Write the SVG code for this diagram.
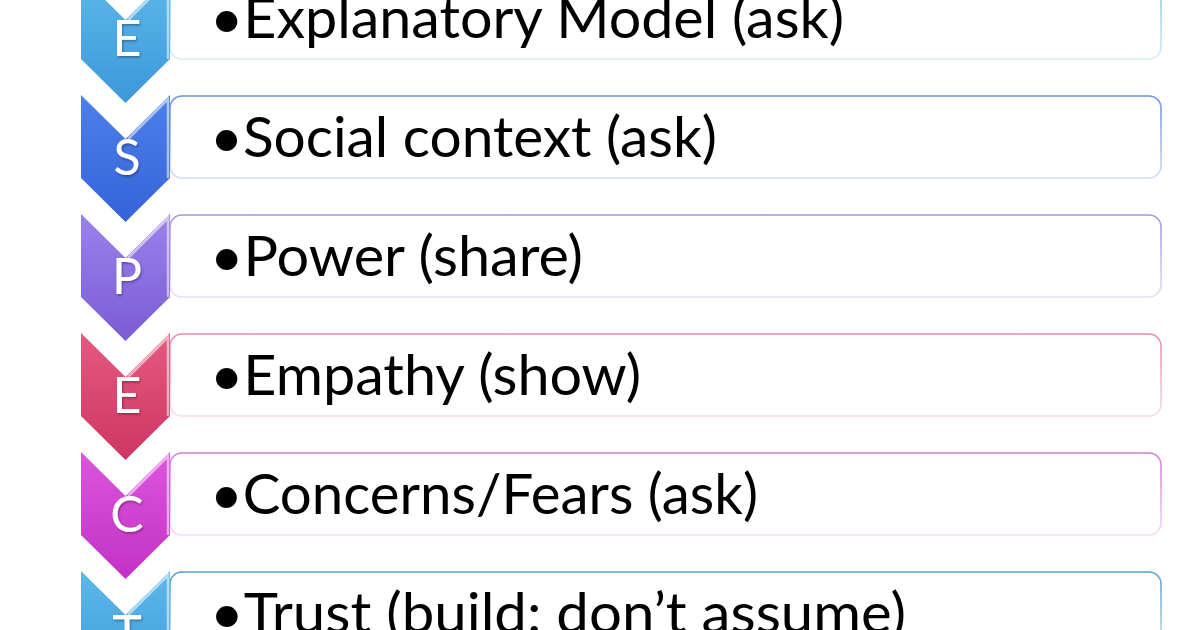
<svg xmlns="http://www.w3.org/2000/svg" width="1200" height="630" viewBox="0 0 1200 630">
<style>
.item{font-family:Lato,"Liberation Sans",sans-serif;font-size:56px;fill:#000}
.letter{font-family:Lato,"Liberation Sans",sans-serif;font-size:50px;fill:#fff;text-anchor:middle;filter:url(#sh)}
.box{fill:#fff;stroke-width:1.6}
.hl{fill:none;stroke:#fff;stroke-opacity:0.55;stroke-width:2.5}
</style>
<defs>
<filter id="sh" x="-20%" y="-20%" width="140%" height="140%"><feDropShadow dx="1" dy="1.5" stdDeviation="0.8" flood-color="#000" flood-opacity="0.35"/></filter>
<linearGradient id="g1" x1="0" y1="0" x2="0" y2="1"><stop offset="0" stop-color="#5db8ea"/><stop offset="1" stop-color="#3d97d9"/></linearGradient>
<linearGradient id="g2" x1="0" y1="0" x2="0" y2="1"><stop offset="0" stop-color="#4d80ea"/><stop offset="1" stop-color="#3563d8"/></linearGradient>
<linearGradient id="g3" x1="0" y1="0" x2="0" y2="1"><stop offset="0" stop-color="#9a82ea"/><stop offset="1" stop-color="#7a5cd6"/></linearGradient>
<linearGradient id="g4" x1="0" y1="0" x2="0" y2="1"><stop offset="0" stop-color="#e45a82"/><stop offset="1" stop-color="#cf3562"/></linearGradient>
<linearGradient id="g5" x1="0" y1="0" x2="0" y2="1"><stop offset="0" stop-color="#dc55dc"/><stop offset="1" stop-color="#c232c4"/></linearGradient>
<linearGradient id="g6" x1="0" y1="0" x2="0" y2="1"><stop offset="0" stop-color="#5db8ea"/><stop offset="1" stop-color="#3d97d9"/></linearGradient>
<linearGradient id="b1" x1="0" y1="0" x2="0" y2="1"><stop offset="0" stop-color="#7cc4e6"/><stop offset="1" stop-color="#d6ecf6"/></linearGradient>
<linearGradient id="b2" x1="0" y1="0" x2="0" y2="1"><stop offset="0" stop-color="#6b8fdc"/><stop offset="1" stop-color="#d2dcf4"/></linearGradient>
<linearGradient id="b3" x1="0" y1="0" x2="0" y2="1"><stop offset="0" stop-color="#a592e4"/><stop offset="1" stop-color="#e4def6"/></linearGradient>
<linearGradient id="b4" x1="0" y1="0" x2="0" y2="1"><stop offset="0" stop-color="#e88aa8"/><stop offset="1" stop-color="#f6dce4"/></linearGradient>
<linearGradient id="b5" x1="0" y1="0" x2="0" y2="1"><stop offset="0" stop-color="#d27ad8"/><stop offset="1" stop-color="#f4daf4"/></linearGradient>
<linearGradient id="b6" x1="0" y1="0" x2="0" y2="1"><stop offset="0" stop-color="#5a9ec8"/><stop offset="1" stop-color="#d2e6f2"/></linearGradient>
<path id="chev" d="M81,0 L125.5,44 L170,0 L170,83 L125.5,127 L81,83 Z"/>
</defs>
<rect width="1200" height="630" fill="#fff"/>
<g id="connectors"/>

<g id="node-e1" transform="translate(0,-24)">
<rect class="box" x="170" y="1" width="991" height="82" rx="12" stroke="url(#b1)"/>
<use href="#chev" fill="url(#g1)"/>
<path class="hl" d="M168,2 L168,83 M128,44 L168,4"/>
<text class="letter" x="127" y="80">E</text>
<text class="item" x="210" y="62" textLength="634" lengthAdjust="spacingAndGlyphs">•Explanatory Model (ask)</text>
</g>

<g id="node-s" transform="translate(0,95)">
<rect class="box" x="170" y="1" width="991" height="82" rx="12" stroke="url(#b2)"/>
<use href="#chev" fill="url(#g2)"/>
<path class="hl" d="M168,2 L168,83 M128,44 L168,4"/>
<text class="letter" x="127" y="80">S</text>
<text class="item" x="210" y="62" textLength="507" lengthAdjust="spacingAndGlyphs">•Social context (ask)</text>
</g>

<g id="node-p" transform="translate(0,214)">
<rect class="box" x="170" y="1" width="991" height="82" rx="12" stroke="url(#b3)"/>
<use href="#chev" fill="url(#g3)"/>
<path class="hl" d="M168,2 L168,83 M128,44 L168,4"/>
<text class="letter" x="127" y="80">P</text>
<text class="item" x="210" y="62" textLength="373" lengthAdjust="spacingAndGlyphs">•Power (share)</text>
</g>

<g id="node-e2" transform="translate(0,333)">
<rect class="box" x="170" y="1" width="991" height="82" rx="12" stroke="url(#b4)"/>
<use href="#chev" fill="url(#g4)"/>
<path class="hl" d="M168,2 L168,83 M128,44 L168,4"/>
<text class="letter" x="127" y="80">E</text>
<text class="item" x="210" y="62" textLength="431" lengthAdjust="spacingAndGlyphs">•Empathy (show)</text>
</g>

<g id="node-c" transform="translate(0,452)">
<rect class="box" x="170" y="1" width="991" height="82" rx="12" stroke="url(#b5)"/>
<use href="#chev" fill="url(#g5)"/>
<path class="hl" d="M168,2 L168,83 M128,44 L168,4"/>
<text class="letter" x="127" y="80">C</text>
<text class="item" x="210" y="62" textLength="548" lengthAdjust="spacingAndGlyphs">•Concerns/Fears (ask)</text>
</g>

<g id="node-t" transform="translate(0,571)">
<rect class="box" x="170" y="1" width="991" height="82" rx="12" stroke="url(#b6)"/>
<use href="#chev" fill="url(#g6)"/>
<path class="hl" d="M168,2 L168,83 M128,44 L168,4"/>
<text class="letter" x="127" y="80">T</text>
<text class="item" x="210" y="62" textLength="696" lengthAdjust="spacingAndGlyphs">•Trust (build: don’t assume)</text>
</g>
</svg>
